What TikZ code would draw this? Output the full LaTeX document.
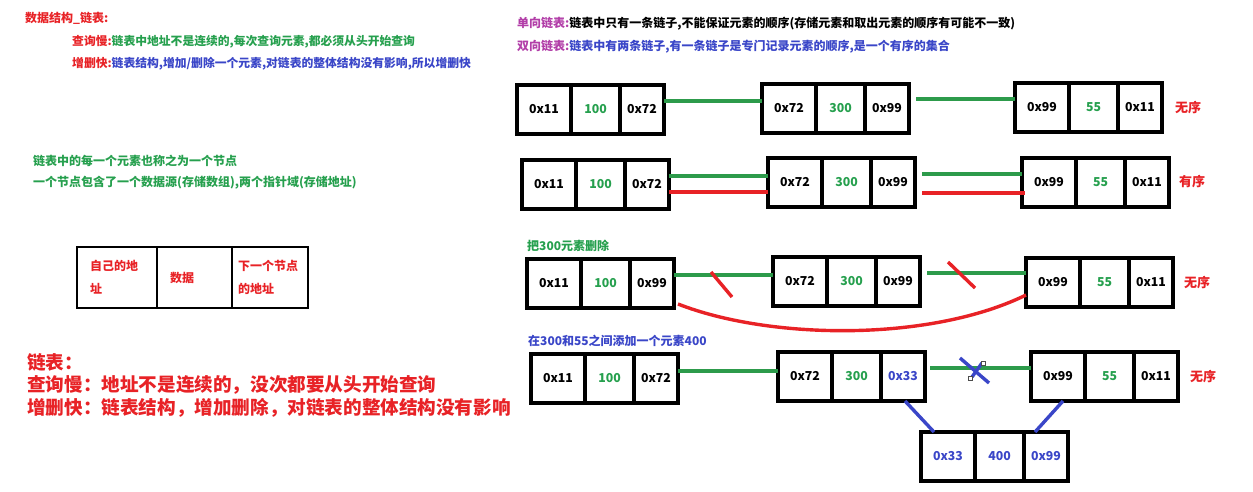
\documentclass[tikz,border=0pt]{standalone}
\usepackage{fontspec}
\newfontfamily\LLfont{Noto Sans CJK SC}

\begin{document}
\begin{tikzpicture}[x=1pt, y=-1pt]

  % ---- colours ----
  \definecolor{LLred}{RGB}{232,34,38}
  \definecolor{LLgreen}{RGB}{38,160,78}
  \definecolor{LLline}{RGB}{45,155,75}
  \definecolor{LLblue}{RGB}{58,70,200}
  \definecolor{LLpurple}{RGB}{178,62,168}

  % ---- styles ----
  \tikzset{
    cell/.style={draw, line width=3.3pt, minimum width=#1, minimum height=49pt,
                 inner sep=0pt, outer sep=0pt, anchor=north west,
                 font=\LLfont\bfseries\fontsize{12.3pt}{14pt}\selectfont},
    demo/.style={cell=#1, minimum height=61pt, line width=2.8pt, text=LLred, align=left,
                 font=\LLfont\bfseries\fontsize{12pt}{23pt}\selectfont},
    txt/.style={anchor=west, inner sep=0pt, font=\LLfont\bfseries\fontsize{#1}{#1}\selectfont},
    txt/.default=12pt,
    glink/.style={draw=LLline, line width=3.6pt},
    rlink/.style={draw=LLred, line width=3.4pt},
    blink/.style={draw=LLblue, line width=3.4pt},
    handle/.style={draw=black!70, line width=0.6pt, fill=white}
  }

  % ---- canvas ----
  \fill[white] (0,0) rectangle (1253,491);
  \useasboundingbox (0,0) rectangle (1253,491);

  % ---- left notes ----
  \node[txt, text=LLred] (title) at (25,18) {数据结构\_链表:};
  \node[txt=11.8pt] (slow) at (72,42) {\textcolor{LLred}{查询慢:}\textcolor{LLgreen}{链表中地址不是连续的,每次查询元素,都必须从头开始查询}};
  \node[txt=11.8pt] (fast) at (72,64) {\textcolor{LLred}{增删快:}\textcolor{LLblue}{链表结构,增加/删除一个元素,对链表的整体结构没有影响,所以增删快}};
  \node[txt, text=LLgreen] (defn) at (33,161) {链表中的每一个元素也称之为一个节点};
  \node[txt, text=LLgreen] (parts) at (33,183) {一个节点包含了一个数据源(存储数组),两个指针域(存储地址)};

  % ---- sample node ----
  \node[demo=80pt, text width=54pt] (own) at (77,247) {自己的地\\址};
  \node[demo=75pt, text width=49pt] (data) at (own.north east) {数据};
  \node[demo=76pt, text width=64pt] (next) at (data.north east) {下一个节点\\的地址};

  % ---- summary ----
  \node[txt=18.6pt, text=LLred] (sumHead) at (27,362) {链表：};
  \node[txt=18.6pt, text=LLred] (sumSlow) at (27,385) {查询慢：地址不是连续的，没次都要从头开始查询};
  \node[txt=18.6pt, text=LLred] (sumFast) at (27,408) {增删快：链表结构，增加删除，对链表的整体结构没有影响};

  % ---- right notes ----
  \node[txt] (uni) at (517,24) {\textcolor{LLpurple}{单向链表:}链表中只有一条链子,不能保证元素的顺序(存储元素和取出元素的顺序有可能不一致)};
  \node[txt] (bi) at (517,47) {\textcolor{LLpurple}{双向链表:}\textcolor{LLblue}{链表中有两条链子,有一条链子是专门记录元素的顺序,是一个有序的集合}};
  \node[txt, text=LLgreen] (lblDel) at (527,246) {把300元素删除};
  \node[txt, text=LLblue] (lblAdd) at (528,341) {在300和55之间添加一个元素400};

  % ---- list nodes ----
  \foreach \nm/\x/\y/\ta/\tb/\tc/\ca/\cb/\cc in {%
      a1/517/85/0x11/100/0x72/black/LLgreen/black,%
      a2/762/84/0x72/300/0x99/black/LLgreen/black,%
      a3/1015/83/0x99/55/0x11/black/LLgreen/black,%
      b1/522/160/0x11/100/0x72/black/LLgreen/black,%
      b2/768/158/0x72/300/0x99/black/LLgreen/black,%
      b3/1022/158/0x99/55/0x11/black/LLgreen/black,%
      c1/527/259/0x11/100/0x99/black/LLgreen/black,%
      c2/773/257/0x72/300/0x99/black/LLgreen/black,%
      c3/1026/258/0x99/55/0x11/black/LLgreen/black,%
      d1/531/354/0x11/100/0x72/black/LLgreen/black,%
      d2/778/352/0x72/300/0x33/black/LLgreen/LLblue,%
      d3/1031/352/0x99/55/0x11/black/LLgreen/black,%
      e/921/432/0x33/400/0x99/LLblue/LLblue/LLblue%
  }{
    \node[cell=54pt, text=\ca] (\nm-l) at (\x,\y) {\ta};
    \node[cell=49pt, text=\cb] (\nm-m) at (\nm-l.north east) {\tb};
    \node[cell=44pt, text=\cc] (\nm-r) at (\nm-m.north east) {\tc};
  }

  % ---- order tags ----
  \node[txt=13pt, text=LLred] (tagA) at (1175,108) {无序};
  \node[txt=13pt, text=LLred] (tagB) at (1179,182) {有序};
  \node[txt=13pt, text=LLred] (tagC) at (1184,283) {无序};
  \node[txt=13pt, text=LLred] (tagD) at (1190,377) {无序};

  % ---- links: single list ----
  \draw[glink] ([yshift=-16pt]a1-r.north east) -- ([yshift=-17pt]a2-l.north west);
  \draw[glink] ([xshift=7pt,yshift=-15pt]a2-r.north east) -- ([yshift=-16pt]a3-l.north west);

  % ---- links: double list ----
  \draw[glink] ([yshift=-16pt]b1-r.north east) -- ([yshift=-18pt]b2-l.north west);
  \draw[rlink] ([yshift=-32pt]b1-r.north east) -- ([yshift=-34pt]b2-l.north west);
  \draw[glink] ([xshift=7pt,yshift=-16pt]b2-r.north east) -- ([yshift=-16pt]b3-l.north west);
  \draw[rlink] ([xshift=7pt,yshift=-35pt]b2-r.north east) -- ([xshift=3pt,yshift=-35pt]b3-l.north west);

  % ---- links: delete 300 ----
  \draw[glink] ([yshift=-16pt]c1-r.north east) -- ([yshift=-18pt]c2-l.north west);
  \draw[glink] ([xshift=7pt,yshift=-16pt]c2-r.north east) -- ([yshift=-15pt]c3-l.north west);
  \draw[rlink] ([xshift=4pt,yshift=4pt]c1-r.south east) .. controls (770,340) and (930,342) .. ([yshift=-37pt]c3-l.north west);
  \draw[rlink] (711,272) -- (732,297);
  \draw[rlink] (948,262) -- (975,288);

  % ---- links: insert 400 ----
  \draw[glink] ([yshift=-17pt]d1-r.north east) -- ([yshift=-19pt]d2-l.north west);
  \draw[glink] ([xshift=5pt,yshift=-16pt]d2-r.north east) -- ([yshift=-16pt]d3-l.north west);
  \draw[blink] (960,358) -- (989,383);
  \draw[blink] (982,363) -- (972,377);
  \draw[handle] (981,361) rectangle (985,365);
  \draw[handle] (968,376) rectangle (972,380);
  \draw[blink] ([xshift=2pt]d2-r.south) -- ([xshift=-14pt]e-l.north);
  \draw[blink] ([xshift=5pt]d3-l.south) -- ([xshift=-11pt]e-r.north);

\end{tikzpicture}
\end{document}
